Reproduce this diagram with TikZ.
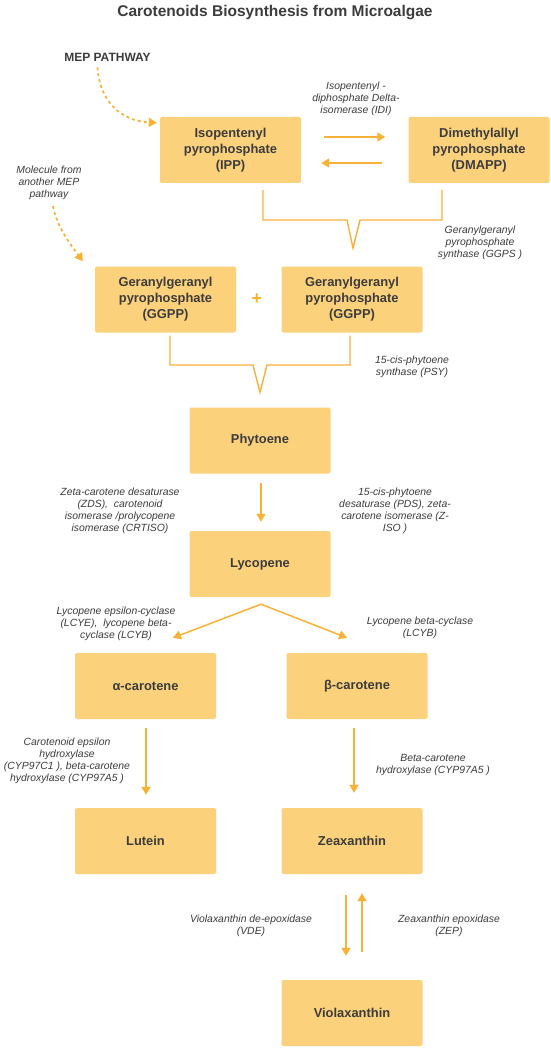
\documentclass[tikz,border=0pt]{standalone}
\usepackage{fontspec}
\setmainfont{Liberation Sans}
\usetikzlibrary{arrows.meta,calc}
\definecolor{boxfill}{RGB}{252,209,124}
\definecolor{arr}{RGB}{249,178,56}
\definecolor{txt}{RGB}{60,60,60}
\begin{document}
\begin{tikzpicture}[x=1pt,y=-1pt,
 mol/.style={fill=boxfill, rounded corners=2pt, minimum width=141pt, minimum height=66pt, inner sep=0pt, align=center, text=txt, font=\fontsize{12.9}{16}\selectfont\bfseries},
 enz/.style={align=center, text=txt, font=\fontsize{10.4}{12}\selectfont\itshape, inner sep=0pt},
 flow/.style={draw=arr, line width=1.5pt, -{Triangle[width=9pt,length=8pt]}},
 bracket/.style={draw=arr, line width=1.4pt, line join=miter},
 dashflow/.style={draw=arr, line width=1.7pt, dash pattern=on 3pt off 3pt, -{Triangle[width=9pt,length=8pt]}}]
\useasboundingbox (0,0) rectangle (550,1051);
\fill[white] (0,0) rectangle (550,1051);

\node[text=txt, font=\fontsize{15.5}{18}\selectfont\bfseries] (title) at (275,13) {Carotenoids Biosynthesis from Microalgae};
\node[text=txt, font=\fontsize{12}{14}\selectfont\bfseries, inner sep=0pt] (mep) at (107.5,57) {MEP PATHWAY};

% molecules
\node[mol] (ipp) at (230.5,150) {Isopentenyl\\pyrophosphate\\(IPP)};
\node[mol] (dmapp) at (479,150) {Dimethylallyl\\pyrophosphate\\(DMAPP)};
\node[mol] (g1) at (165.5,299.5) {Geranylgeranyl\\pyrophosphate\\(GGPP)};
\node[mol] (g2) at (352,299.5) {Geranylgeranyl\\pyrophosphate\\(GGPP)};
\node[text=arr, font=\fontsize{18}{18}\selectfont\bfseries, inner sep=0pt] (plus) at (257,299) {+};
\node[mol] (phyt) at (260,440.5) {Phytoene};
\node[mol] (lyc) at (260,564) {Lycopene};
\node[mol] (alpha) at (145.5,686) {α-carotene};
\node[mol] (beta) at (357,686) {β-carotene};
\node[mol] (lutein) at (145.5,841) {Lutein};
\node[mol] (zea) at (352,841) {Zeaxanthin};
\node[mol] (viola) at (352,1013) {Violaxanthin};

% enzyme labels
\node[enz] (idi) at (356,99) {Isopentenyl -\\diphosphate Delta-\\isomerase (IDI)};
\node[enz] (mol) at (49,183) {Molecule from\\another MEP\\pathway};
\node[enz] (ggps) at (480,243) {Geranylgeranyl\\pyrophosphate\\synthase (GGPS )};
\node[enz] (psy) at (412,367) {15-cis-phytoene\\synthase (PSY)};
\node[enz] (zds) at (120,511) {Zeta-carotene desaturase\\(ZDS),\ \ carotenoid\\isomerase /prolycopene\\isomerase (CRTISO)};
\node[enz] (pds) at (395,511) {15-cis-phytoene\\desaturase (PDS), zeta-\\carotene isomerase (Z-\\ISO )};
\node[enz] (lcye) at (116,624) {Lycopene epsilon-cyclase\\(LCYE),\ \ lycopene beta-\\cyclase (LCYB)};
\node[enz] (lcyb) at (420,628) {Lycopene beta-cyclase\\(LCYB)};
\node[enz] (cyp1) at (67,761) {Carotenoid epsilon\\hydroxylase\\(CYP97C1 ), beta-carotene\\hydroxylase (CYP97A5 )};
\node[enz] (cyp2) at (433,765) {Beta-carotene\\hydroxylase (CYP97A5 )};
\node[enz] (vde) at (251,926) {Violaxanthin de-epoxidase\\(VDE)};
\node[enz] (zep) at (449,926) {Zeaxanthin epoxidase\\(ZEP)};

% dashed inputs
\draw[dashflow] ($(mep.south)+(-10,6)$) .. controls +(2,34) and +(-36,-2) .. ($(ipp.north west)+(-3,6)$);
\draw[dashflow] ($(mol.south)+(4,6)$) .. controls +(4,22) and +(-10,-14) .. ($(g1.north west)+(-12,-5)$);

% IPP <-> DMAPP
\draw[flow] ($(ipp.east)+(23,-13)$) -- ($(dmapp.west)+(-23,-13)$);
\draw[flow] ($(dmapp.west)+(-26,13)$) -- ($(ipp.east)+(20,13)$);

% bracket to GGPP
\coordinate (v1) at (353,248);
\draw[bracket] ($(ipp.south)+(32.5,7)$) |- (347,220) -- (v1) -- (360,220) -| ($(dmapp.south)+(-37,7)$);

% bracket to phytoene
\coordinate (v2) at ($(phyt.north)+(0,-15)$);
\draw[bracket] ($(g1.south)+(4.5,3)$) |- (253,365) -- (v2) -- (267,365) -| ($(g2.south)+(-2,3)$);

% main flow
\draw[flow] ($(phyt.south)+(1,9)$) -- ($(lyc.north)+(1,-9)$);
\draw[flow] ($(lyc.south)+(1,7)$) -- ($(alpha.north)+(27.5,-15)$);
\draw[flow] ($(lyc.south)+(1,7)$) -- ($(beta.north)+(-10,-15)$);
\draw[flow] ($(alpha.south)+(0.5,9)$) -- ($(lutein.north)+(0.5,-13)$);
\draw[flow] ($(beta.south)+(-3,9)$) -- ($(zea.north)+(2,-15)$);
\draw[flow] ($(zea.south)+(-6,21)$) -- ($(viola.north)+(-6,-24)$);
\draw[flow] ($(viola.north)+(10,-28)$) -- ($(zea.south)+(10,19)$);
\end{tikzpicture}
\end{document}
